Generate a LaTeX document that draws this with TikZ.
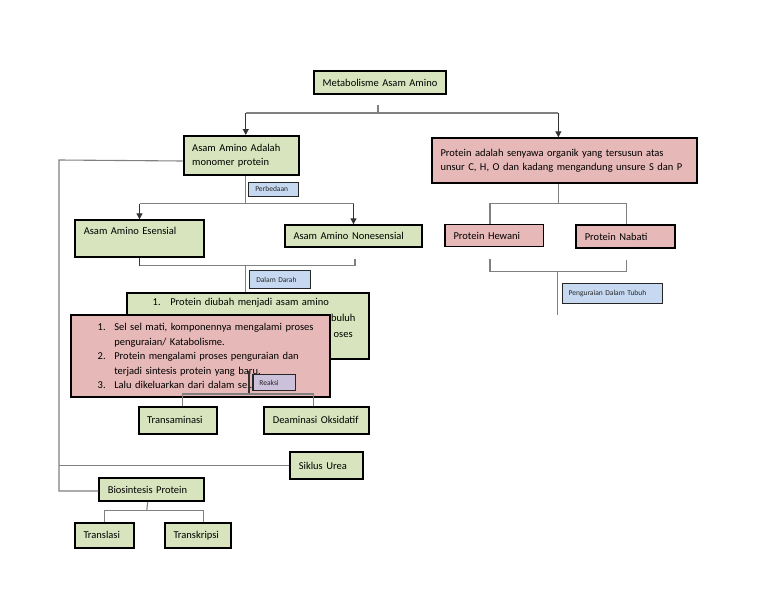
\documentclass[tikz,border=0pt]{standalone}
\usepackage{fontspec}
\setmainfont{Carlito}
\usetikzlibrary{arrows.meta,positioning,calc}
\definecolor{boxgreen}{RGB}{215,228,189}
\definecolor{boxred}{RGB}{230,185,184}
\definecolor{tagblue}{RGB}{198,217,241}
\definecolor{tagpurple}{RGB}{204,193,218}
\definecolor{linegray}{RGB}{128,128,128}

\begin{document}
\begin{tikzpicture}[
  x=1pt, y=-1pt,
  box/.style={draw, line width=2pt, anchor=north west, align=left, inner xsep=8.5pt, inner ysep=2pt,
              font=\fontsize{10.5}{14.5}\selectfont},
  gbox/.style={box, fill=boxgreen},
  rbox/.style={box, fill=boxred},
  tag/.style={draw=black!85, line width=0.9pt, anchor=north west, align=left, inner xsep=6.5pt,
              inner ysep=0pt, font=\fontsize{7.5}{9}\selectfont, text=black!85},
  conn/.style={draw=linegray, line width=1.1pt},
  arr/.style={draw=black!80, line width=1.1pt, -{Triangle[length=6pt,width=6pt]}},
]
\fill[white] (0,0) rectangle (768,594);
\useasboundingbox (0,0) rectangle (768,594);

% Nodes
\node[gbox, align=center, text width=115pt, minimum height=23pt] (meta) at (313,70) {Metabolisme Asam Amino};
\node[gbox, text width=98.3pt, minimum height=39pt] (adalah) at (182.7,135) {Asam Amino Adalah\\monomer protein};
\node[rbox, text width=247.7pt, minimum height=45pt] (protein) at (431,137.3)
  {Protein adalah senyawa organik yang tersusun atas\\unsur C, H, O dan kadang mengandung unsure S dan P};
\node[rbox, line width=1.4pt, text width=81.4pt, minimum height=22pt] (hewani) at (444.3,224) {Protein Hewani};
\node[rbox, text width=82pt, minimum height=23pt] (nabati) at (575.3,224.3) {Protein Nabati};
\node[gbox, text width=111.4pt, minimum height=36.7pt, text depth=16pt] (esensial) at (74.3,219.3) {Asam Amino Esensial};
\node[gbox, text width=120pt, minimum height=21.7pt] (nones) at (284,224.3) {Asam Amino Nonesensial};
\node[gbox, inner xsep=4pt, text width=234.3pt, minimum height=66.6pt, font=\fontsize{10.5}{16}\selectfont] (ubah) at (126,291.7)
  {\hspace*{21.7pt}\makebox[17.6pt][l]{1.}Protein diubah menjadi asam amino\\
   \hspace*{200pt}buluh\\
   \hspace*{202.7pt}oses\\
   \mbox{}};
\node[rbox, inner xsep=4pt, text width=251.3pt, minimum height=82pt] (mati) at (70,314)
  {\hspace*{22.7pt}\makebox[16.6pt][l]{1.}Sel sel mati, komponennya mengalami proses\\
   \hspace*{39.3pt}penguraian/ Katabolisme.\\
   \hspace*{22.7pt}\makebox[16.6pt][l]{2.}Protein mengalami proses penguraian dan\\
   \hspace*{39.3pt}terjadi sintesis protein yang baru.\\
   \hspace*{22.7pt}\makebox[16.6pt][l]{3.}Lalu dikeluarkan dari dalam sel.};
\node[gbox, text width=61.3pt, minimum height=26.7pt] (transam) at (137.7,406) {Transaminasi};
\node[gbox, text width=88pt, minimum height=26.7pt] (deamin) at (263.3,406) {Deaminasi Oksidatif};
\node[gbox, text width=55.4pt, minimum height=27.6pt] (siklus) at (289.3,450.7) {Siklus Urea};
\node[gbox, text width=87.4pt, minimum height=22.7pt] (bios) at (98.3,477.3) {Biosintesis Protein};
\node[gbox, text width=42.3pt, minimum height=25pt] (transl) at (74,521.7) {Translasi};
\node[gbox, text width=49pt, minimum height=25pt] (transk) at (164,521.7) {Transkripsi};

% Connectors
\coordinate (aIn) at ([xshift=4.4pt]adalah.north);
\coordinate (pIn) at ([xshift=-6pt]protein.north);
\coordinate (jmeta) at (378,113);
\draw[conn] (jmeta) -- ++(0,-8);
\draw[conn] (jmeta -| aIn) -- (jmeta -| pIn);
\draw[arr] (jmeta -| aIn) -- (aIn);
\draw[arr] (jmeta -| pIn) -- (pIn);

\coordinate (aOut) at ([xshift=4.4pt]adalah.south);
\coordinate (jdiff) at ($(aOut)+(0,27.7)$);
\draw[conn] (aOut) -- (jdiff);
\draw[conn] (jdiff -| esensial.north) -- (jdiff -| nones.north);
\draw[arr] (jdiff -| esensial.north) -- (esensial.north);
\draw[arr] (jdiff -| nones.north) -- (nones.north);

\coordinate (jblood) at (245.3,265.7);
\draw[red!75!black, line width=1.1pt] (esensial.south) -- (esensial.south |- jblood);
\draw[conn] (esensial.south |- jblood) -| ($(nones.south)+(1.5,11)$);
\draw[conn] (jblood) -- (jblood |- ubah.north);

\coordinate (pOut) at ([xshift=-5.6pt]protein.south);
\coordinate (jkind) at ($(pOut)+(0,19.4)$);
\coordinate (hIn) at ([xshift=-4.2pt]hewani.north);
\coordinate (nIn) at ([xshift=0.9pt]nabati.north);
\draw[conn] (pOut) -- (jkind);
\draw[conn] (hIn) |- (jkind) -| (nIn);

\coordinate (jdigest) at (557.7,271.7);
\draw[conn] ($(hewani.south)+(-4.2,12)$) |- (jdigest) -| ($(nabati.south)+(0.9,10.7)$);
\draw[conn] (jdigest) -- ++(0,43.3);

\coordinate (tIn) at ([xshift=4.8pt]transam.north);
\coordinate (dIn) at ([xshift=-3.5pt]deamin.north);
\coordinate (jreact) at (249,394);
\draw[conn, draw=black!80] (jreact) -- ++(0,-23);
\draw[conn] (tIn) |- (jreact) -| (dIn);

\coordinate (spine) at (59,160);
\draw[conn] ([yshift=-5.5pt]adalah.west) -- (spine) |- ([yshift=-1.3pt]bios.west);
\draw[conn] (siklus.west) -- (siklus.west -| spine);

\coordinate (jgene) at (146.7,510.7);
\draw[conn] ([xshift=-3.8pt]bios.south) -- (jgene);
\draw[conn] (transl.north) |- (jgene) -| ([xshift=5.7pt]transk.north);

% Labels on the connectors
\node[tag, fill=tagblue, text width=37pt, minimum height=14.3pt] (beda) at (248.3,181.7) {Perbedaan};
\node[tag, fill=tagblue, text width=47.7pt, minimum height=18.3pt] (darah) at (249.3,270) {Dalam Darah};
\node[tag, fill=tagblue, text width=87.6pt, minimum height=20pt] (urai) at (561.7,283.3) {Penguraian Dalam Tubuh};
\node[tag, fill=tagpurple, line width=1.2pt, text width=29.7pt, minimum height=16pt] (reaksi) at (252.3,374) {Reaksi};
\end{tikzpicture}
\end{document}
